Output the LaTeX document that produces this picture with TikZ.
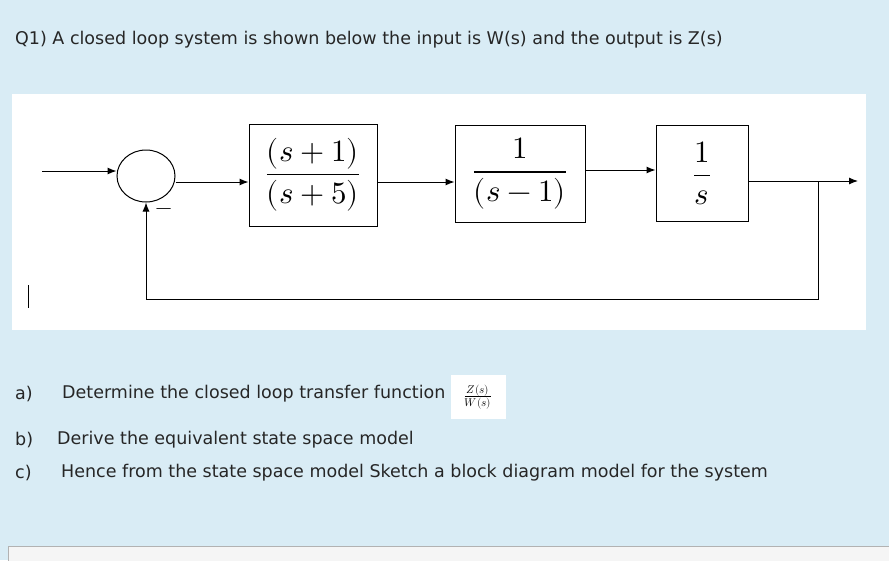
\documentclass[tikz,border=0pt]{standalone}
\usepackage{fontspec}
\setmainfont{DejaVu Sans}
\usepackage{unicode-math}
\setmathfont{Latin Modern Math}
\usetikzlibrary{arrows.meta,shapes.geometric}
\definecolor{bgblue}{HTML}{D9ECF5}
\tikzset{
  blk/.style={draw, line width=1pt, fill=white},
  conn/.style={line width=1pt, -{Latex[length=9pt,width=7pt]}},
  line/.style={line width=1pt},
  txt/.style={anchor=west, inner sep=0pt, font=\fontsize{17.5}{20}\selectfont, text=black!85}
}
\begin{document}
\begin{tikzpicture}[x=1pt,y=-1pt]
\useasboundingbox (0,0) rectangle (889,560);
\fill[bgblue] (0,0) rectangle (889,560);
\fill[white] (12,94) rectangle (866,330);
\draw[gray!60, fill=gray!8] (8,546) rectangle (895,570);
\node[txt] (title) at (15,40) {Q1) A closed loop system is shown below the input is W(s) and the output is Z(s)};
% diagram
\coordinate (in) at (42,171);
\node[draw, ellipse, line width=1pt, minimum width=58pt, minimum height=52pt, inner sep=0pt] (sum) at (146,176) {};
\node[blk, minimum width=128pt, minimum height=102pt] (b1) at (313,175) {\fontsize{31}{34}\selectfont$\dfrac{(s+1)}{(s+5)}$};
\node[blk, minimum width=130pt, minimum height=97pt] (b2) at (520,173.5) {\fontsize{31}{34}\selectfont$\dfrac{1}{(s-1)}$};
\node[blk, minimum width=92pt, minimum height=96pt] (b3) at (702,173) {\fontsize{31}{34}\selectfont$\dfrac{1}{s}$};
\coordinate (out) at (858,181);
\coordinate (tap) at (818,181);
\coordinate (fb) at (818,299);
\draw[conn] (in) -- (sum.west |- in);
\draw[conn] (sum.east |- 0,182) -- (b1.west |- 0,182);
\draw[conn] (b1.east |- 0,182) -- (b2.west |- 0,182);
\draw[conn] (b2.east |- 0,170) -- (b3.west |- 0,170);
\draw[conn] (b3.east |- out) -- (out);
\draw[conn] (tap) -- (fb) -- (sum.south |- fb) -- (sum.south);
\node[font=\fontsize{22}{22}\selectfont] (minus) at (164,212) {$-$};
\draw[line] (28,285) -- (28,308);
% questions
\node[txt] (qa) at (15,394) {a)};
\node[txt] (ta) at (62,394) {Determine the closed loop transfer function};
\node[fill=white, inner sep=1pt, minimum width=55pt, minimum height=44pt] (frac) at (478,397) {\fontsize{16}{18}\selectfont$\frac{Z(s)}{W(s)}$};
\node[txt] (qb) at (15,440) {b)};
\node[txt] (tb) at (57,440) {Derive the equivalent state space model};
\node[txt] (qc) at (15,473) {c)};
\node[txt] (tc) at (61,473) {Hence from the state space model Sketch a block diagram model for the system};
\end{tikzpicture}
\end{document}
